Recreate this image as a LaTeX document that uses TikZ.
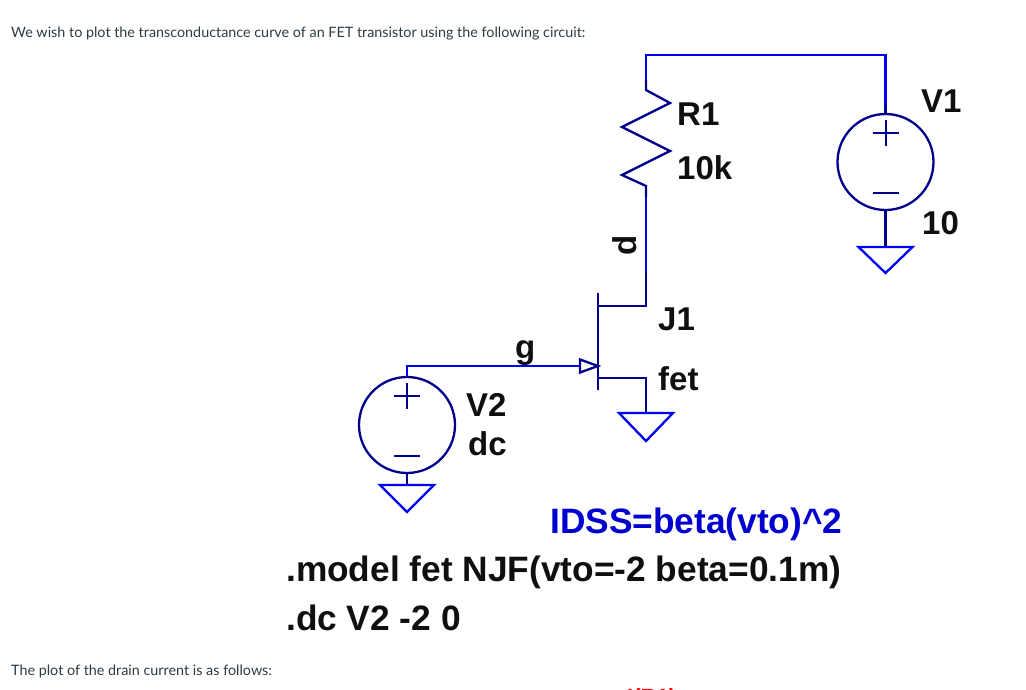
\documentclass[tikz,border=0pt]{standalone}
\usepackage{fontspec}
\setmainfont{Liberation Sans}
\newfontfamily\bodyfont{Lato}
\definecolor{wire}{RGB}{0,0,245}
\definecolor{part}{RGB}{0,0,140}
\definecolor{bodytext}{RGB}{45,59,69}
\definecolor{labeltext}{RGB}{15,15,15}
\tikzset{
  wireline/.style={draw=wire,line width=2.3pt,line join=miter},
  partline/.style={draw=part,line width=2.3pt,line join=miter},
  signline/.style={draw=part,line width=2pt},
  bodylabel/.style={anchor=base west,inner sep=0pt,text=bodytext,font=\bodyfont\fontsize{14.35}{16}\selectfont},
  cirlabel/.style={anchor=base west,inner sep=0pt,text=labeltext,font=\fontsize{33}{36}\selectfont\bfseries},
  spicelabel/.style={anchor=base west,inner sep=0pt,text=labeltext,font=\fontsize{35.3}{38}\selectfont\bfseries},
  source/.style={circle,draw=part,line width=2.3pt,minimum size=96pt,inner sep=0pt},
  gndsym/.style={draw=wire,line width=2.3pt,line join=miter}
}
\begin{document}
\begin{tikzpicture}[x=1pt,y=-1pt]
\useasboundingbox (0,0) rectangle (1026,690);
\clip (0,0) rectangle (1026,690);
\fill[white] (0,0) rectangle (1026,690);

\node[bodylabel] (intro) at (11,38) {We wish to plot the transconductance curve of an FET transistor using the following circuit:};
\node[bodylabel] (outro) at (11,675) {The plot of the drain current is as follows:};
\node[anchor=base west,inner sep=0pt,text=red,font=\fontsize{22}{24}\selectfont\bfseries] (trace) at (627,704) {I(R1)};

% sources
\node[source] (v1) at (885.5,162) {};
\node[source] (v2) at (407,425) {};
\coordinate (v1p) at (885.5,133);
\coordinate (v1m) at (885.5,193);
\coordinate (v2p) at (407,396);
\coordinate (v2m) at (407,456);
\draw[signline] (872.5,133) -- (898.5,133) (885.5,120) -- (885.5,146);
\draw[signline] (872.5,193) -- (898.5,193);
\draw[signline] (394,396) -- (420,396) (407,383) -- (407,409);
\draw[signline] (394,456) -- (420,456);

% key points
\coordinate (rtop) at (646,80);
\coordinate (rbot) at (646,197);
\coordinate (corner) at (646,55);
\coordinate (jd) at (646,272);
\coordinate (dstub) at (646,306);
\coordinate (ddot) at (598,306);
\coordinate (sstub) at (598,378);
\coordinate (sdrop) at (646,378);
\coordinate (gtip) at (598,366);
\coordinate (gback) at (580,366);
\coordinate (v2top) at (407,366);
\coordinate (g1) at (646,413);
\coordinate (g2) at (885.5,247);
\coordinate (g3) at (407,485);

% wires
\draw[wireline] (rtop) -- (corner) -- (885.5,55) -- (885.5,105);
\draw[partline] (885.5,105) -- (v1.north);
\draw[wireline] (rbot) -- (jd);
\draw[wireline] (v2.north) -- (v2top) -- (gback);

% resistor
\draw[partline] (rtop) -- (646,90) -- (670,103) -- (622,127) -- (670,151) -- (622,175) -- (646,186) -- (rbot);

% JFET
\draw[partline] (598,293) -- (598,390);
\draw[partline] (jd) -- (dstub) -- (ddot);
\draw[partline] (sstub) -- (sdrop) -- (g1);
\draw[partline,fill=white] (gtip) -- (580,359.5) -- (580,372.5) -- cycle;

% ground leads
\draw[partline] (v1.south) -- (g2);
\draw[partline] (v2.south) -- (g3);

% grounds
\draw[gndsym] (619,413) -- (673,413) -- (646,441) -- cycle;
\draw[gndsym] (858.5,247) -- (912.5,247) -- (885.5,273) -- cycle;
\draw[gndsym] (380,485) -- (434,485) -- (407,512) -- cycle;

% labels
\node[cirlabel] (r1) at (677,126) {R1};
\node[cirlabel] (r1v) at (677,180) {10k};
\node[cirlabel] (v1n) at (921,113) {V1};
\node[cirlabel] (v1v) at (922,234) {10};
\node[cirlabel] (j1) at (658,330) {J1};
\node[cirlabel] (j1m) at (658,390) {fet};
\node[cirlabel] (v2n) at (466,416) {V2};
\node[cirlabel] (v2v) at (468,455) {dc};
\node[cirlabel] (gn) at (515,358) {g};
\node[cirlabel,rotate=90] (dn) at (636,256) {d};
\node[spicelabel,text=wire!85!black] (idss) at (550,533) {IDSS=beta(vto)\^{}2};
\node[spicelabel] (model) at (286,581) {.model fet NJF(vto=-2 beta=0.1m)};
\node[spicelabel] (dc) at (286,630) {.dc V2 -2 0};
\end{tikzpicture}
\end{document}
